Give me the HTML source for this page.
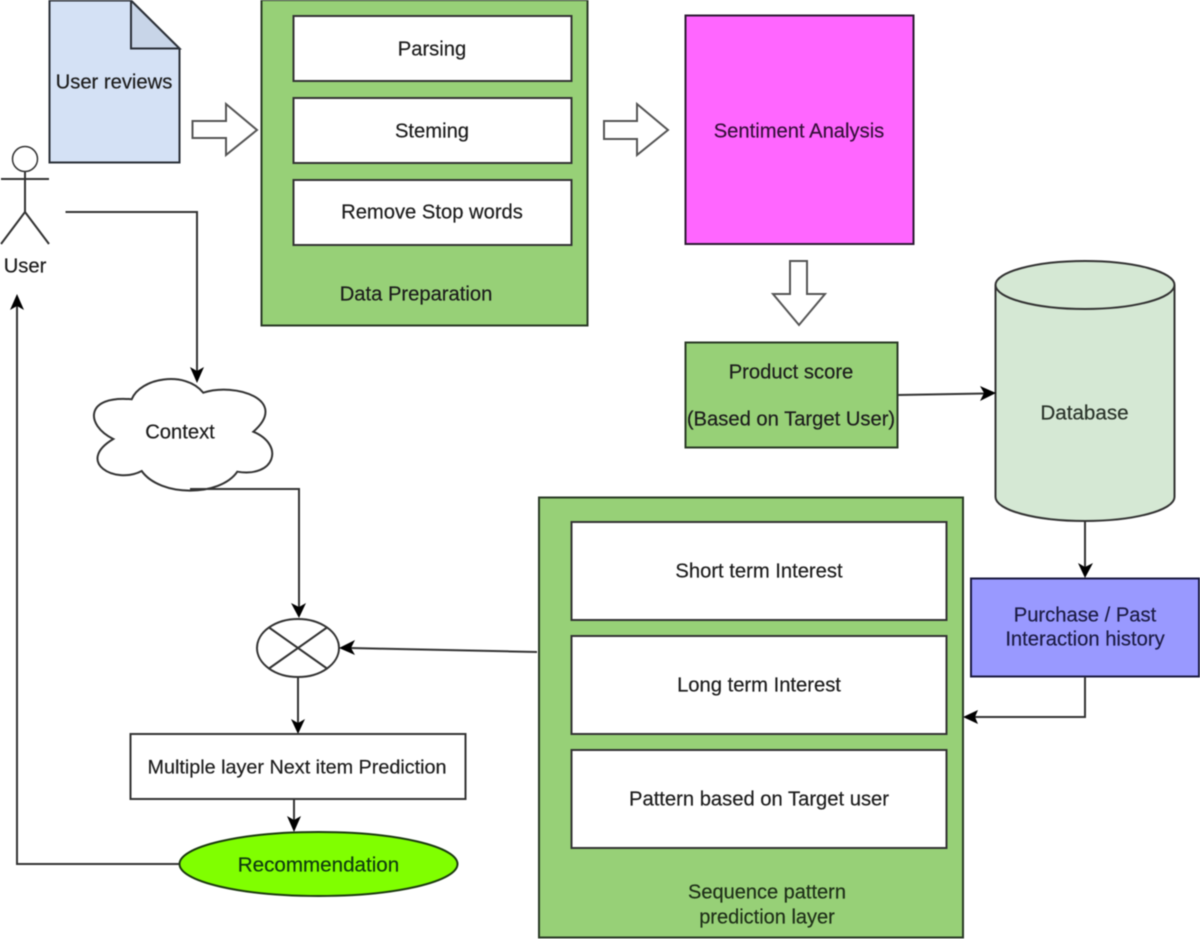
<!DOCTYPE html>
<html><head><meta charset="utf-8"><style>
html,body{margin:0;padding:0;background:#fff;width:1200px;height:939px;overflow:hidden}
svg{display:block;filter:blur(0.5px)}
text{font-family:"Liberation Sans",sans-serif;font-size:20.2px;fill:#1c1c1c;stroke:#1c1c1c;stroke-width:.2px;text-anchor:middle}
.b{fill:#fff;stroke:#333;stroke-width:2}
.g{fill:#97d077;stroke:#2a3a26;stroke-width:2}
.l{fill:none;stroke:#333;stroke-width:2}
.a{fill:#000;stroke:none}
.h{fill:#fff;stroke:#555;stroke-width:2}
</style></head><body>
<svg width="1200" height="939" viewBox="0 0 1200 939" xmlns="http://www.w3.org/2000/svg">
<!-- User reviews -->
<path d="M49.500 0.500H131L179.500 48.500V162.500H49.500Z" fill="#d4e1f5" stroke="#2b3038" stroke-width="2"/>
<path d="M131 0.500V48.500H179.500Z" fill="#c8d5e8" stroke="#2b3038" stroke-width="2"/>
<text x="114" y="88.500">User reviews</text>
<!-- Actor -->
<circle cx="25" cy="159" r="12.500" fill="#fff" stroke="#333" stroke-width="1.500"/>
<path d="M25 172V212M1 179H49M25 212L1 244M25 212L49 244" class="l" stroke-width="1.500"/>
<text x="25" y="272.500">User</text>
<!-- hollow arrows -->
<path class="h" d="M192.500 121H226V104L257 130L226 155V138H192.500Z"/>
<path class="h" d="M604 121H637V104L668 130L637 155V139H604Z"/>
<path class="h" d="M790 261V294H773L799 325L825 294H807V261Z"/>
<!-- Data Preparation -->
<rect class="g" x="261.500" y="0" width="326" height="325.500"/>
<rect class="b" x="293.500" y="16" width="278" height="65"/>
<rect class="b" x="293.500" y="98" width="278" height="65"/>
<rect class="b" x="293.500" y="180" width="278" height="65"/>
<text x="432" y="55.500">Parsing</text>
<text x="432" y="137.500">Steming</text>
<text x="432" y="218.500">Remove Stop words</text>
<text x="416" y="300.500">Data Preparation</text>
<!-- Sentiment -->
<rect x="685.500" y="15.500" width="228" height="228.500" fill="#ff66ff" stroke="#2d1a33" stroke-width="2"/>
<text x="799" y="137.500" style="fill:#36103a;stroke:#36103a">Sentiment Analysis</text>
<!-- Product score -->
<rect class="g" x="685.500" y="342.500" width="212" height="105"/>
<text x="791" y="378.500">Product score</text>
<text x="791" y="425.500">(Based on Target User)</text>
<!-- Database -->
<path d="M995.500 285V497C995.500 510 1035 521 1085 521C1135 521 1174.500 510 1174.500 497V285C1174.500 272 1135 261 1085 261C1035 261 995.500 272 995.500 285Z" fill="#d5e8d4" stroke="#333" stroke-width="2"/>
<path d="M995.500 285C995.500 298 1035 309 1085 309C1135 309 1174.500 298 1174.500 285" fill="none" stroke="#333" stroke-width="2"/>
<text x="1084.500" y="419.500" style="fill:#2a332a;stroke:#2a332a;font-size:20.6px">Database</text>
<path class="l" d="M898 395L985 393.500"/>
<path class="a" d="M996 393L980 386L984 393L980 401Z"/>
<!-- Purchase -->
<rect x="971" y="578.500" width="228" height="98" fill="#9999ff" stroke="#1a1a40" stroke-width="2"/>
<text x="1085" y="621.500" style="fill:#1c1c44;stroke:#1c1c44">Purchase / Past</text>
<text x="1085" y="645.500" style="fill:#1c1c44;stroke:#1c1c44">Interaction history</text>
<path class="l" d="M1085 521V568"/>
<path class="a" d="M1085 578L1078 563L1085 567L1093 563Z"/>
<path class="l" d="M1085 677V717H975"/>
<path class="a" d="M963 717L978 710L975 717L978 724Z"/>
<!-- Sequence -->
<rect class="g" x="539" y="497.500" width="424" height="440"/>
<rect class="b" x="571.500" y="522" width="375" height="98"/>
<rect class="b" x="571.500" y="636" width="375" height="98"/>
<rect class="b" x="571.500" y="750" width="375" height="98"/>
<text x="759" y="577.500">Short term Interest</text>
<text x="759" y="691.500">Long term Interest</text>
<text x="759" y="805.500">Pattern based on Target user</text>
<text x="767" y="898.500" style="fill:#1e2e18;stroke:#1e2e18;font-size:20px">Sequence pattern</text>
<text x="767" y="923.500" style="fill:#1e2e18;stroke:#1e2e18;font-size:20px">prediction layer</text>
<!-- User to Context -->
<path class="l" d="M65.500 212H197V372"/>
<path class="a" d="M197 383L190 367L197 371L204 367Z"/>
<!-- Cloud -->
<path d="M131.700 399.300C140 378 185 370 203.300 392.700C235 382 290 400 253.300 431.700C285 445 275 478 237.300 471.700C220 497 160 497 141.700 471C115 485 75 462 113.300 439C85 425 85 395 131.700 399.300Z" fill="#fff" stroke="#333" stroke-width="2"/>
<text x="180" y="438.500">Context</text>
<path class="l" d="M190 489H299V607"/>
<path class="a" d="M299 618L291 603L299 607L306 603Z"/>
<!-- X circle -->
<ellipse cx="298" cy="648" rx="41" ry="29" fill="#fff" stroke="#333" stroke-width="2"/>
<path class="l" d="M269 627.500L327 668.500M327 627.500L269 668.500"/>
<path class="l" d="M537 652L350 648"/>
<path class="a" d="M339 648L355 640L351 648L355 655Z"/>
<path class="l" d="M298 677V724"/>
<path class="a" d="M298 734L291 719L298 723L305 719Z"/>
<!-- Multi layer -->
<rect class="b" x="130.500" y="734" width="335" height="65"/>
<text x="297" y="773.500" style="font-size:19.800px">Multiple layer Next item Prediction</text>
<path class="l" d="M294 799V821"/>
<path class="a" d="M294 832L287 816L294 820L301 816Z"/>
<!-- Recommendation -->
<ellipse cx="318.500" cy="864" rx="139" ry="32" fill="#80ff00" stroke="#1c3a10" stroke-width="2"/>
<text x="318.500" y="871.500" style="fill:#103a10;stroke:#103a10;font-size:20.600px">Recommendation</text>
<path class="l" d="M179 864H17V305"/>
<path class="a" d="M17 294L10 310L17 306L24 310Z"/>
</svg>
</body></html>
